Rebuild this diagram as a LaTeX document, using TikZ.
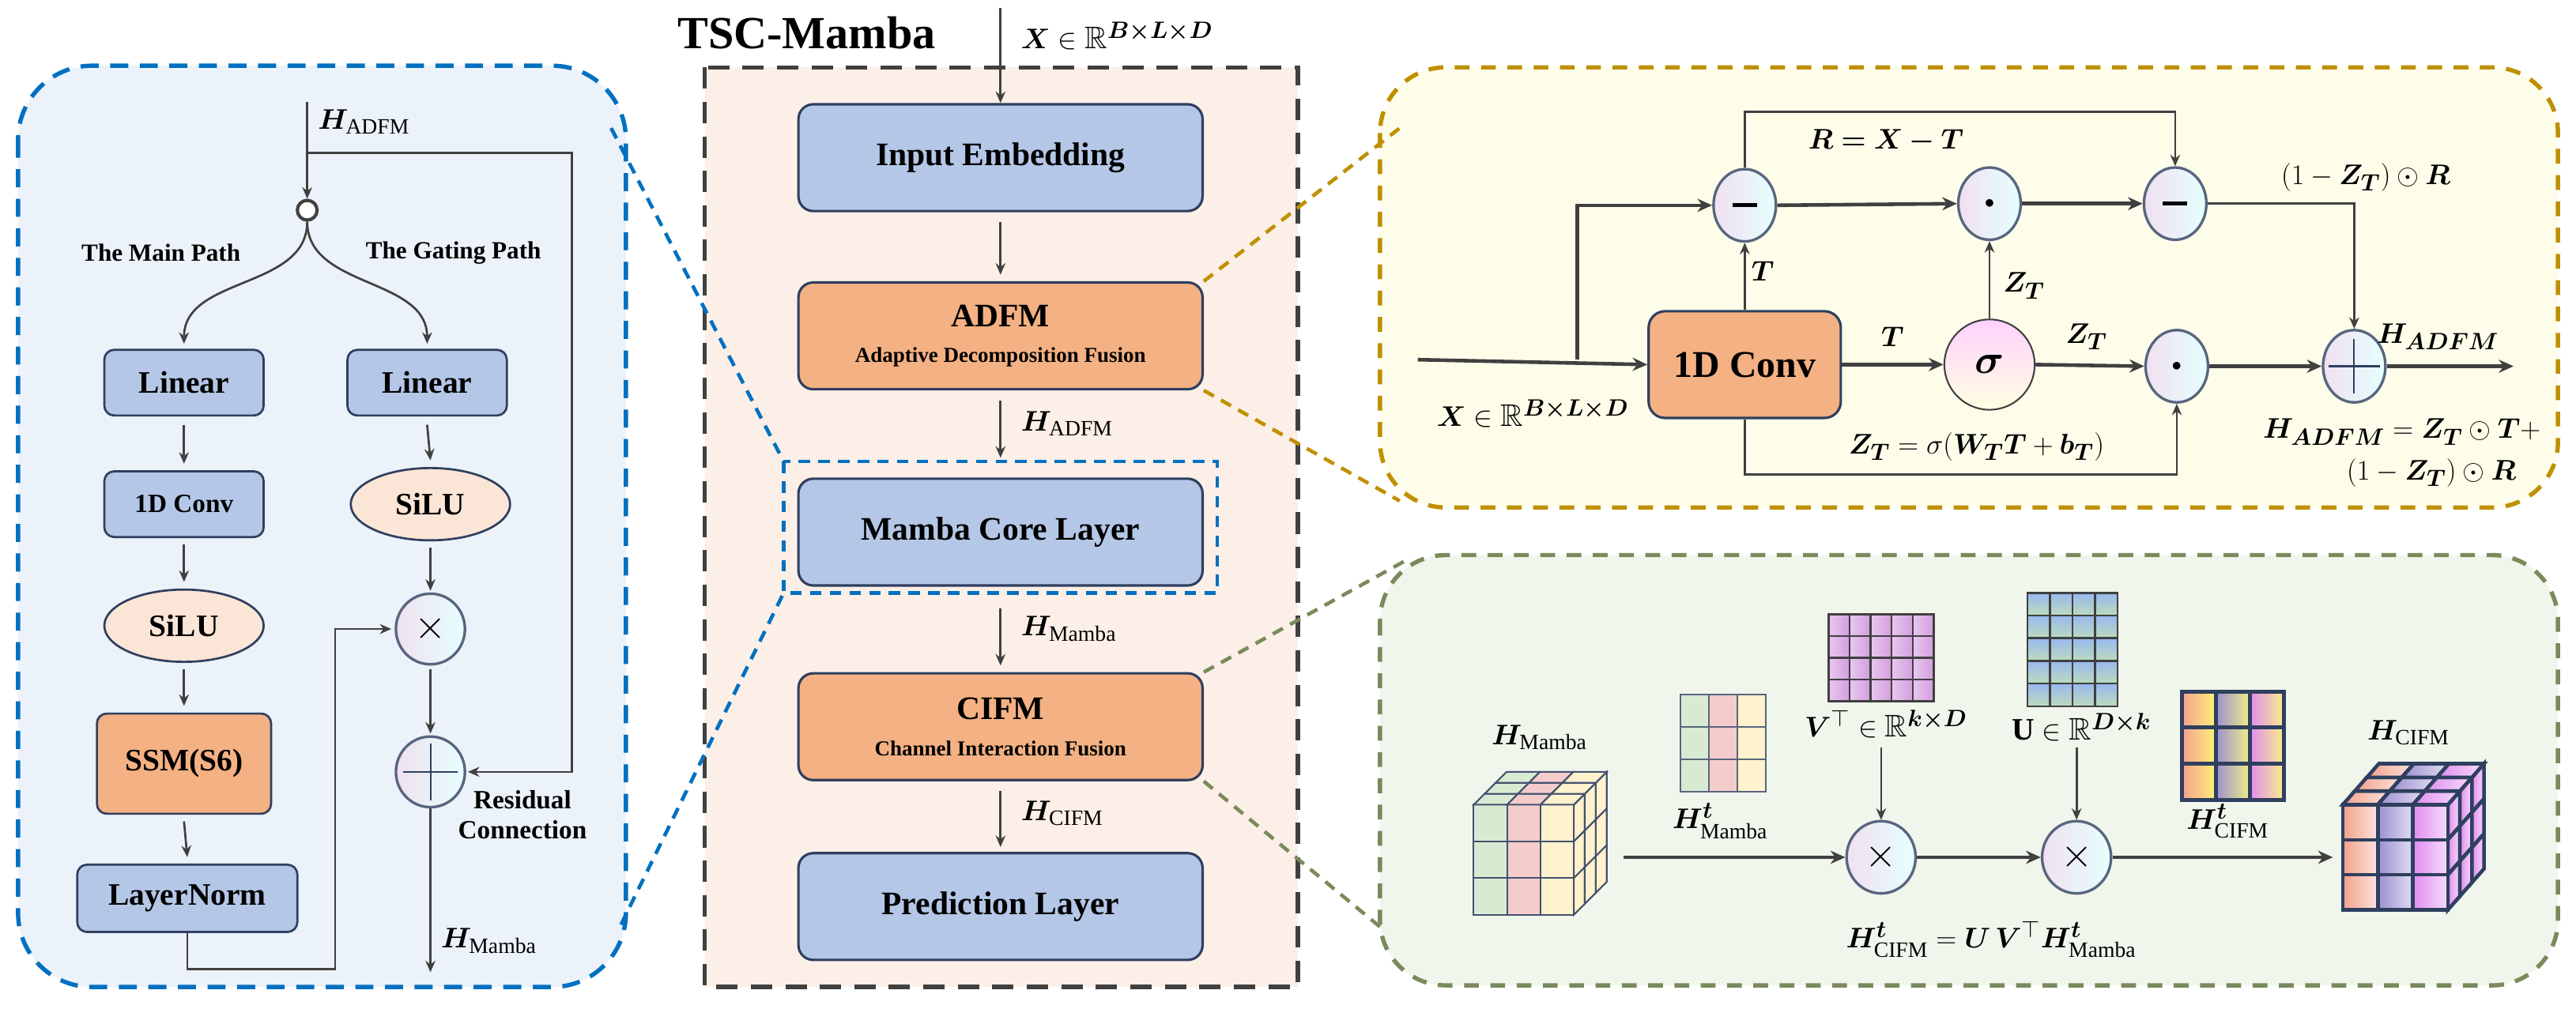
\documentclass[tikz,border=0pt]{standalone}
\usepackage{amsmath,amssymb,bm}
\usepackage{fontspec}
\setmainfont{Liberation Serif}
\usetikzlibrary{positioning,shapes.geometric,arrows.meta,calc}

\definecolor{boxblue}{HTML}{B4C7E7}
\definecolor{boxline}{HTML}{2F3F5F}
\definecolor{boxorange}{HTML}{F4B183}
\definecolor{silu}{HTML}{FBE5D6}
\definecolor{arrowgray}{HTML}{404040}
\definecolor{leftfill}{HTML}{EBF2F9}
\definecolor{leftdash}{HTML}{0070C0}
\definecolor{midfill}{HTML}{FCEFE7}
\definecolor{yelfill}{HTML}{FDFDEA}
\definecolor{yeldash}{HTML}{BF9000}
\definecolor{grnfill}{HTML}{F0F6EB}
\definecolor{grndash}{HTML}{7A8A5C}
\definecolor{cellG}{HTML}{D9EAD3}
\definecolor{cellP}{HTML}{F4CCCC}
\definecolor{cellY}{HTML}{FFF2CC}
\definecolor{outA}{HTML}{F4A08C}
\definecolor{outB}{HTML}{9C8FD0}
\definecolor{outC}{HTML}{E08CF0}
\definecolor{matV}{HTML}{D49CE0}
\definecolor{matU}{HTML}{98B8F0}

% cube: x y w h dx dy col1 col2 col3 (line set by \cubeline, \cubelw, \cubelight)
\newcommand{\cellcube}[9]{%
  \foreach \i/\c in {0/#7,1/#8,2/#9}{
    \foreach \j in {0,1,2}{
      \path[draw=\cubeline, line width=\cubelw, left color=\c, right color=\c!\cubelight!white]
        ({#1+\i*#3/3},{#2+\j*#4/3}) rectangle ++({#3/3},{#4/3});
      \path[draw=\cubeline, line width=\cubelw, left color=\c, right color=\c!\cubelight!white]
        ({#1+\i*#3/3+\j*#5/3},{#2-\j*#6/3}) -- ++({#3/3},0) -- ++({#5/3},{-#6/3}) -- ++({-#3/3},0) -- cycle;
      \path[draw=\cubeline, line width=\cubelw, left color=#9, right color=#9!\cubelight!white]
        ({#1+#3+\i*#5/3},{#2+\j*#4/3-\i*#6/3}) -- ++({#5/3},{-#6/3}) -- ++(0,{#4/3}) -- ++({-#5/3},{#6/3}) -- cycle;
    }
  }
}

\tikzset{
  every node/.style={font=\bfseries},
  arr/.style={draw=arrowgray, line width=1.3pt, -{Stealth[length=7pt,width=6pt]}},
  arrb/.style={draw=arrowgray, line width=2.2pt, -{Stealth[length=9pt,width=8pt]}},
  mbox/.style={rectangle, rounded corners=9pt, draw=boxline, line width=1.5pt, fill=boxblue,
               minimum width=246pt, minimum height=65pt, font=\bfseries\fontsize{20}{23}\selectfont, align=center},
  obox/.style={mbox, fill=boxorange},
  sbox/.style={rectangle, rounded corners=6pt, draw=boxline, line width=1.3pt, fill=boxblue,
               minimum width=97pt, minimum height=40pt, font=\bfseries\fontsize{19}{21}\selectfont},
  sell/.style={ellipse, draw=boxline, line width=1.3pt, fill=silu,
               minimum width=97pt, minimum height=44pt, font=\bfseries\fontsize{19}{21}\selectfont},
  opc/.style={ellipse, draw=boxline!80, line width=1.6pt, left color=violet!12, right color=cyan!10,
              minimum width=38pt, minimum height=44pt, inner sep=0pt},
  mlab/.style={font=\fontsize{19}{22}\selectfont}
}

\begin{document}
\begin{tikzpicture}[x=1pt, y=-1pt]
  \useasboundingbox (0,0) rectangle (1568,614);

  % ---------- panels ----------
  \draw[leftdash, fill=leftfill, line width=2.6pt, dash pattern=on 11pt off 7pt, rounded corners=45pt]
    (11,40) rectangle (381,601);
  \draw[arrowgray, fill=midfill, line width=2.6pt, dash pattern=on 13pt off 8pt]
    (429,41) rectangle (790,601);
  \draw[yeldash, fill=yelfill, line width=2.6pt, dash pattern=on 9pt off 7pt, rounded corners=40pt]
    (840,41) rectangle (1557,309);
  \draw[grndash, fill=grnfill, line width=2.6pt, dash pattern=on 9pt off 7pt, rounded corners=40pt]
    (840,338) rectangle (1557,600);

  % ---------- middle column ----------
  \node[font=\bfseries\fontsize{28}{30}\selectfont] (title) at (491,20) {TSC-Mamba};
  \coordinate (xin) at (609,5);
  \node[mbox] (emb) at (609,96) {Input Embedding};
  \node[obox, below=42pt of emb] (adfm) {ADFM\\[-1pt]{\fontsize{13}{15}\selectfont Adaptive Decomposition Fusion}};
  \node[mbox, below=53pt of adfm] (mamba) {Mamba Core Layer};
  \node[obox, below=52pt of mamba] (cifm) {CIFM\\[-1pt]{\fontsize{13}{15}\selectfont Channel Interaction Fusion}};
  \node[mbox, below=43pt of cifm] (pred) {Prediction Layer};

  \draw[arr] (xin) -- (emb.north);
  \node[mlab, anchor=west] at (618,22) {$\bm{X} \in \mathbb{R}^{\bm{B\times L\times D}}$};
  \draw[arr] ([yshift=-6pt]emb.south) -- ([yshift=4pt]adfm.north);
  \draw[arr] ([yshift=-6pt]adfm.south) -- ([yshift=12pt]mamba.north);
  \node[mlab, anchor=west] at (618,258) {$\bm{H}_{\mathrm{ADFM}}$};
  \draw[arr] ([yshift=-13pt]mamba.south) -- ([yshift=4pt]cifm.north);
  \node[mlab, anchor=west] at (618,383) {$\bm{H}_{\mathrm{Mamba}}$};
  \draw[arr] ([yshift=-6pt]cifm.south) -- ([yshift=3pt]pred.north);
  \node[mlab, anchor=west] at (618,495) {$\bm{H}_{\mathrm{CIFM}}$};

  % zoom hints
  \draw[leftdash, line width=2.2pt, dash pattern=on 7pt off 5pt] (477,281) rectangle (741,361);
  \draw[leftdash, line width=2.2pt, dash pattern=on 7pt off 5pt] (372,78) -- (477,281);
  \draw[leftdash, line width=2.2pt, dash pattern=on 7pt off 5pt] (378,563) -- (477,361);
  \draw[yeldash, line width=2.2pt, dash pattern=on 7pt off 5pt] (adfm.north east) -- (852,78);
  \draw[yeldash, line width=2.2pt, dash pattern=on 7pt off 5pt] (adfm.south east) -- (852,305);
  \draw[grndash, line width=2.2pt, dash pattern=on 7pt off 5pt] (cifm.north east) -- (858,340);
  \draw[grndash, line width=2.2pt, dash pattern=on 7pt off 5pt] (cifm.south east) -- (842,566);

  % ---------- left panel: Mamba core ----------
  \coordinate (hin) at (187,62);
  \node[circle, draw=arrowgray, line width=2pt, fill=white, minimum size=12pt, inner sep=0pt] (split) at (187,128) {};
  \node[mlab, anchor=west] at (190,74) {$\bm{H}_{\mathrm{ADFM}}$};
  \node[font=\bfseries\fontsize{15}{17}\selectfont] at (98,154) {The Main Path};
  \node[font=\bfseries\fontsize{15}{17}\selectfont] at (276,154) {The Gating Path};

  \node[sbox] (linL) at (112,233) {Linear};
  \node[sbox] (linR) at (260,233) {Linear};
  \node[sbox, font=\bfseries\fontsize{16}{18}\selectfont] (conv) at (112,307) {1D Conv};
  \node[sell] (siluR) at (262,307) {SiLU};
  \node[sell] (siluL) at (112,381) {SiLU};
  \node[sbox, fill=boxorange, minimum width=106pt, minimum height=61pt] (ssm) at (112,465) {SSM(S6)};
  \node[sbox, minimum width=134pt, minimum height=41pt] (ln) at (114,547) {LayerNorm};
  \node[opc, minimum width=42pt, minimum height=43pt, font=\fontsize{28}{28}\selectfont] (tm) at (262,383) {$\times$};
  \node[opc, minimum width=42pt, minimum height=43pt] (pl) at (262,470) {};
  \draw[boxline, line width=1pt] ([xshift=5pt]pl.west) -- ([xshift=-5pt]pl.east);
  \draw[boxline, line width=1pt] ([yshift=-5pt]pl.north) -- ([yshift=5pt]pl.south);

  \draw[arr] (hin) -- (split.north);
  \draw[arr] (split.south) to[out=-90, in=90] ([yshift=3pt]linL.north);
  \draw[arr] (split.south) to[out=-90, in=90] ([yshift=3pt]linR.north);
  \draw[arr] ([yshift=-5pt]linL.south) -- ([yshift=4pt]conv.north);
  \draw[arr] ([yshift=-4pt]conv.south) -- ([yshift=4pt]siluL.north);
  \draw[arr] ([yshift=-4pt]siluL.south) -- ([yshift=4pt]ssm.north);
  \draw[arr] ([yshift=-4pt]ssm.south) -- ([yshift=4pt]ln.north);
  \draw[arr] ([yshift=-5pt]linR.south) -- ([yshift=4pt]siluR.north);
  \draw[arr] ([yshift=-4pt]siluR.south) -- ([yshift=1pt]tm.north);
  \draw[arr] ([yshift=-2pt]tm.south) -- ([yshift=1pt]pl.north);
  \coordinate (resA) at (187,93);
  \coordinate (resB) at (348,93);
  \draw[arr] (resA) -- (resB) |- ([xshift=1pt]pl.east);
  \coordinate (lnA) at (204,590);
  \draw[arr] (ln.south) |- (lnA) |- ([xshift=-2pt]tm.west);
  \coordinate (hout) at (262,592);
  \draw[arr] (pl.south) -- (hout);
  \node[font=\bfseries\fontsize{16}{18}\selectfont, align=center] at (318,496) {Residual\\Connection};
  \node[mlab, anchor=west] at (265,573) {$\bm{H}_{\mathrm{Mamba}}$};

  % ---------- ADFM panel ----------
  \coordinate (xa) at (863,219);
  \coordinate (br) at (960,219);
  \node[obox, minimum width=117pt, minimum height=65pt, rounded corners=10pt, font=\bfseries\fontsize{23}{25}\selectfont] (conv1) at (1062,222) {1D Conv};
  \node[opc, font=\fontsize{10}{10}\selectfont] (m1) at (1062,125) {\rule{15pt}{2.5pt}};
  \node[opc, font=\fontsize{12}{12}\selectfont] (d1) at (1211,124) {$\bullet$};
  \node[opc, font=\fontsize{10}{10}\selectfont] (m2) at (1324,124) {\rule{15pt}{2.5pt}};
  \node[opc, minimum width=55pt, minimum height=55pt, draw=arrowgray, line width=1pt, top color=magenta!18, bottom color=yellow!12, font=\fontsize{26}{26}\selectfont] (sig) at (1211,222) {$\bm{\sigma}$};
  \node[opc, font=\fontsize{12}{12}\selectfont] (d2) at (1325,223) {$\bullet$};
  \node[opc] (pl2) at (1433,223) {};
  \draw[boxline, line width=1pt] ([xshift=4pt]pl2.west) -- ([xshift=-4pt]pl2.east);
  \draw[boxline, line width=1pt] ([yshift=-6pt]pl2.north) -- ([yshift=6pt]pl2.south);
  \coordinate (topR) at (1324,68);
  \coordinate (botR) at (1325,289);
  \coordinate (outA) at (1530,223);

  \draw[arrb] (xa) -- (conv1.west);
  \draw[arrb] (br) |- (m1.west);
  \draw[arrb] (m1.east) -- (d1.west);
  \draw[arrb] (d1.east) -- (m2.west);
  \draw[arr] (m1.north) |- (topR) -- (m2.north);
  \draw[arr] (m2.east) -| (pl2.north);
  \draw[arr] (conv1.north) -- (m1.south);
  \draw[arrb] (conv1.east) -- (sig.west);
  \draw[arr] (sig.north) -- (d1.south);
  \draw[arrb] (sig.east) -- (d2.west);
  \draw[arrb] (d2.east) -- (pl2.west);
  \draw[arrb] (pl2.east) -- (outA);
  \draw[arr] (conv1.south) |- (botR) -- (d2.south);

  \node[mlab] at (1148,86) {$\bm{R = X - T}$};
  \node[mlab] at (1440,108) {$(1-\bm{Z}_{\bm{T}})\odot \bm{R}$};
  \node[mlab] at (1073,165) {$\bm{T}$};
  \node[mlab] at (1232,174) {$\bm{Z}_{\bm{T}}$};
  \node[mlab] at (1152,205) {$\bm{T}$};
  \node[mlab] at (1270,205) {$\bm{Z}_{\bm{T}}$};
  \node[mlab] at (1484,205) {$\bm{H}_{\bm{ADFM}}$};
  \node[mlab] at (933,252) {$\bm{X} \in \mathbb{R}^{\bm{B\times L\times D}}$};
  \node[mlab] at (1203,272) {$\bm{Z}_{\bm{T}} = \sigma(\bm{W}_{\bm{T}}\bm{T} + \bm{b}_{\bm{T}})$};
  \node[mlab] at (1462,263) {$\bm{H}_{\bm{ADFM}} = \bm{Z}_{\bm{T}} \odot \bm{T} +$};
  \node[mlab] at (1480,288) {$(1-\bm{Z}_{\bm{T}})\odot \bm{R}$};

  % ---------- CIFM panel ----------
  \def\cubeline{boxline!90}\def\cubelw{1pt}\def\cubelight{100}
  \cellcube{897}{490}{61}{67}{20}{20}{cellG}{cellP}{cellY}
  \node[mlab] at (937,449) {$\bm{H}_{\mathrm{Mamba}}$};

  % slice H^t
  \foreach \i/\c in {0/cellG,1/cellP,2/cellY}{
    \foreach \j in {0,1,2}{
      \draw[boxline!80, line width=1pt, fill=\c] ({1023+\i*17.3},{423+\j*19.7}) rectangle ++(17.3,19.7);
    }
  }
  % V^T matrix
  \foreach \i in {0,...,4}{
    \foreach \j in {0,...,3}{
      \draw[arrowgray, line width=1.2pt, left color=matV!55!white, right color=matV] ({1113+\i*12.8},{374+\j*13.25}) rectangle ++(12.8,13.25);
    }
  }
  \node[mlab] at (1148,441) {$\bm{V}^{\top} \in \mathbb{R}^{\bm{k\times D}}$};
  % U matrix
  \foreach \i in {0,...,3}{
    \foreach \j in {0,...,4}{
      \draw[arrowgray, line width=1.2pt, top color=matU, bottom color=green!30!gray!40] ({1234+\i*13.75},{361+\j*13.8}) rectangle ++(13.75,13.8);
    }
  }
  \node[mlab] at (1267,443) {$\mathbf{U} \in \mathbb{R}^{\bm{D\times k}}$};
  % slice H^t_CIFM
  \foreach \i/\c in {0/outA,1/outB,2/outC}{
    \foreach \j in {0,1,2}{
      \draw[boxline, line width=2.4pt, left color=\c, right color=\c!25!yellow!60!white] ({1328+\i*20.7},{421+\j*22}) rectangle ++(20.7,22);
    }
  }
  % output cube
  \def\cubeline{boxline}\def\cubelw{2.2pt}\def\cubelight{30}
  \cellcube{1426}{490}{64}{64}{22}{25}{outA}{outB}{outC}
  \node[mlab] at (1466,446) {$\bm{H}_{\mathrm{CIFM}}$};

  \node[opc, minimum width=42pt, minimum height=44pt, font=\fontsize{26}{26}\selectfont\mdseries] (c1) at (1145,522) {$\times$};
  \node[opc, minimum width=42pt, minimum height=44pt, font=\fontsize{26}{26}\selectfont\mdseries] (c2) at (1264,522) {$\times$};
  \coordinate (hmA) at (988,522);
  \coordinate (vA) at (1145,455);
  \coordinate (uA) at (1264,455);
  \coordinate (cOut) at (1420,522);
  \draw[arrb] (hmA) -- (c1.west);
  \draw[arrb] (c1.east) -- (c2.west);
  \draw[arrb] (c2.east) -- (cOut);
  \draw[arr] (vA) -- (c1.north);
  \draw[arr] (uA) -- (c2.north);
  \node[mlab] at (1047,500) {$\bm{H}^{\bm{t}}_{\mathrm{Mamba}}$};
  \node[mlab] at (1356,500) {$\bm{H}^{\bm{t}}_{\mathrm{CIFM}}$};
  \node[mlab] at (1212,572) {$\bm{H}^{\bm{t}}_{\mathrm{CIFM}} = \bm{U}\,\bm{V}^{\top}\bm{H}^{\bm{t}}_{\mathrm{Mamba}}$};
\end{tikzpicture}
\end{document}
